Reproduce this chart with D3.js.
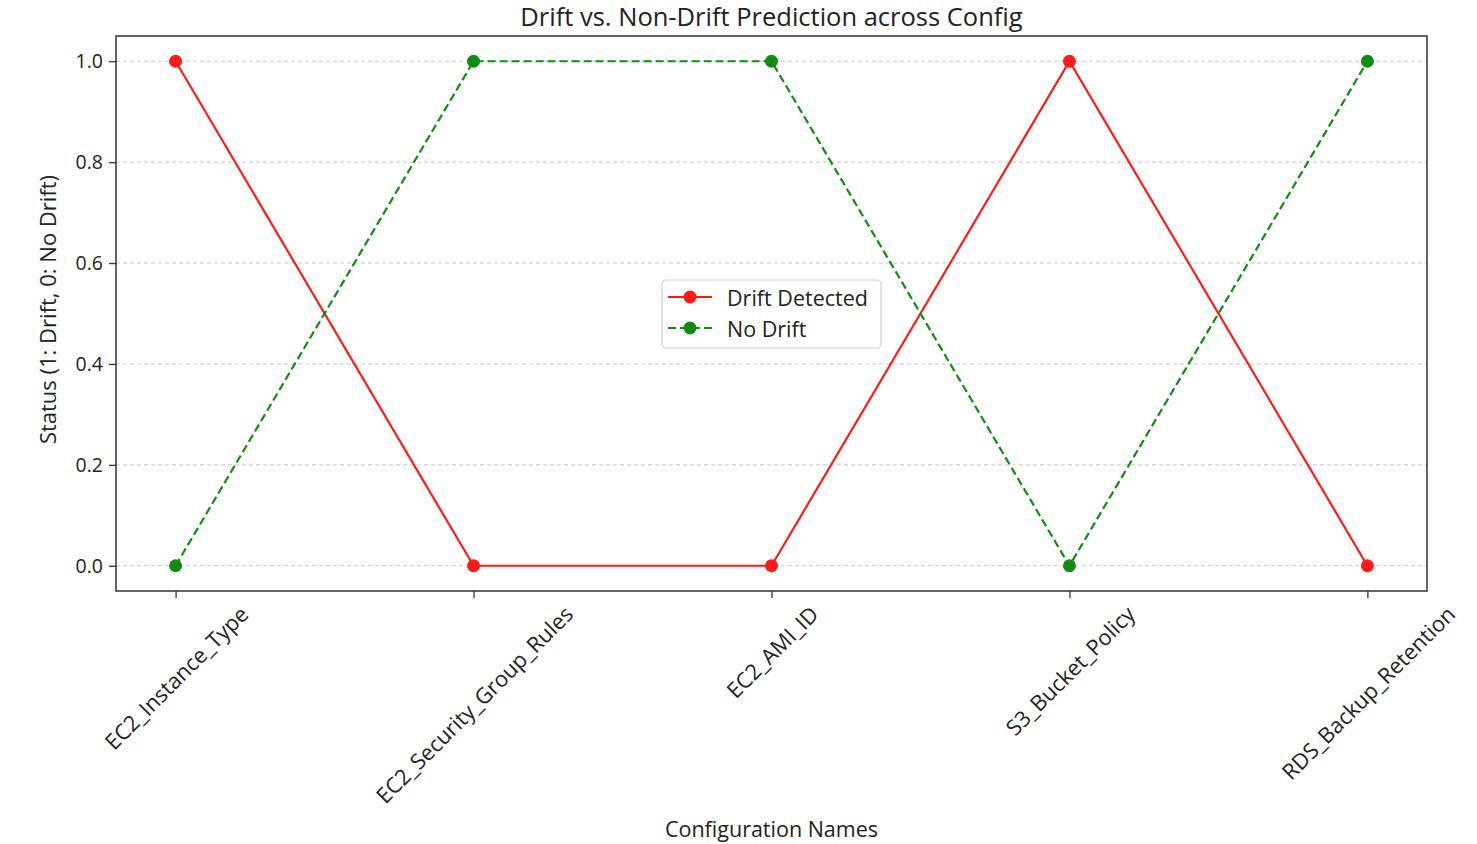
<!DOCTYPE html>
<html><head><meta charset="utf-8">
<script src="https://cdn.jsdelivr.net/npm/d3@7"></script>
<style>
body{margin:0;background:#fff;}
svg text{font-family:"Open Sans","DejaVu Sans",sans-serif;fill:#222;}
</style></head>
<body><svg id="c" width="1477" height="844"></svg>
<script>
const categories = ["EC2_Instance_Type","EC2_Security_Group_Rules","EC2_AMI_ID","S3_Bucket_Policy","RDS_Backup_Retention"];
const driftValues = [1,0,0,1,0];
const noDriftValues = [0,1,1,0,1];
const yTicks = [0.0,0.2,0.4,0.6,0.8,1.0];

const svg = d3.select("#c");
const L=116, R=1427, T=36, B=591;
const x = d3.scaleLinear().domain([-0.2, categories.length-1+0.2]).range([L,R]);
const y = d3.scaleLinear().domain([-0.05,1.05]).range([B,T]);

// grid
svg.append("g").selectAll("line").data(yTicks).join("line")
  .attr("x1",L).attr("x2",R).attr("y1",d=>y(d)).attr("y2",d=>y(d))
  .attr("stroke","#b0b0b0").attr("stroke-width",1).attr("stroke-dasharray","4,3").attr("opacity",0.7);

// axes
const ya = svg.append("g").attr("transform",`translate(${L},0)`)
  .call(d3.axisLeft(y).tickValues(yTicks).tickFormat(d3.format(".1f")).tickSize(7).tickPadding(6));
ya.select(".domain").remove();
ya.selectAll("text").style("font-size","19.5px");
ya.selectAll("line").attr("stroke","#333").attr("stroke-width",1.3);

const xa = svg.append("g").attr("transform",`translate(0,${B})`)
  .call(d3.axisBottom(x).tickValues(d3.range(categories.length)).tickFormat(i=>categories[i]).tickSize(7));
xa.select(".domain").remove();
xa.selectAll("line").attr("stroke","#333").attr("stroke-width",1.3);
xa.selectAll("text").style("font-size","21.8px").attr("text-anchor","middle").attr("dy",null).attr("y",0)
  .each(function(){
    const t=d3.select(this);
    const len=this.getComputedTextLength();
    const h=19;
    const half=(len+h)/(2*Math.SQRT2);
    t.attr("dominant-baseline","central")
     .attr("transform",`translate(0,${12+half}) rotate(-45)`);
  });

// frame
svg.append("rect").attr("x",L).attr("y",T).attr("width",R-L).attr("height",B-T)
  .attr("fill","none").attr("stroke","#333").attr("stroke-width",1.5);

const line = d3.line().x((d,i)=>x(i)).y(d=>y(d));
svg.append("path").datum(driftValues).attr("d",line).attr("fill","none")
  .attr("stroke","#ff1a1a").attr("stroke-width",2.2);
svg.append("g").selectAll("circle").data(driftValues).join("circle")
  .attr("cx",(d,i)=>x(i)).attr("cy",d=>y(d)).attr("r",6.5).attr("fill","#ff1a1a");
svg.append("path").datum(noDriftValues).attr("d",line).attr("fill","none")
  .attr("stroke","#138a13").attr("stroke-width",2.2).attr("stroke-dasharray","8,4");
svg.append("g").selectAll("circle").data(noDriftValues).join("circle")
  .attr("cx",(d,i)=>x(i)).attr("cy",d=>y(d)).attr("r",6.5).attr("fill","#138a13");

// title and labels
svg.append("text").attr("x",(L+R)/2).attr("y",16).attr("dominant-baseline","central").attr("text-anchor","middle").style("font-size","25.5px")
  .text("Drift vs. Non-Drift Prediction across Config");
svg.append("text").attr("x",(L+R)/2).attr("y",828).attr("dominant-baseline","central").attr("text-anchor","middle").style("font-size","21.5px")
  .text("Configuration Names");
svg.append("text").attr("transform",`translate(47,${(T+B)/2-4}) rotate(-90)`).attr("dominant-baseline","central").attr("text-anchor","middle").style("font-size","22px")
  .text("Status (1: Drift, 0: No Drift)");

// legend
const lg = svg.append("g").attr("transform","translate(662,280)");
lg.append("rect").attr("width",219).attr("height",68).attr("rx",4).attr("fill","#fff").attr("fill-opacity",0.8)
  .attr("stroke","#d0d0d0").attr("stroke-width",1.2);
const items=[{name:"Drift Detected",c:"#ff1a1a",dash:null},{name:"No Drift",c:"#138a13",dash:"8,4"}];
items.forEach((it,i)=>{
  const yy=17+i*31;
  lg.append("line").attr("x1",6).attr("x2",50).attr("y1",yy).attr("y2",yy).attr("stroke",it.c).attr("stroke-width",2.2).attr("stroke-dasharray",it.dash);
  lg.append("circle").attr("cx",28).attr("cy",yy).attr("r",6.5).attr("fill",it.c);
  lg.append("text").attr("x",65).attr("y",yy).attr("dominant-baseline","central").style("font-size","21.5px").text(it.name);
});
</script></body></html>
